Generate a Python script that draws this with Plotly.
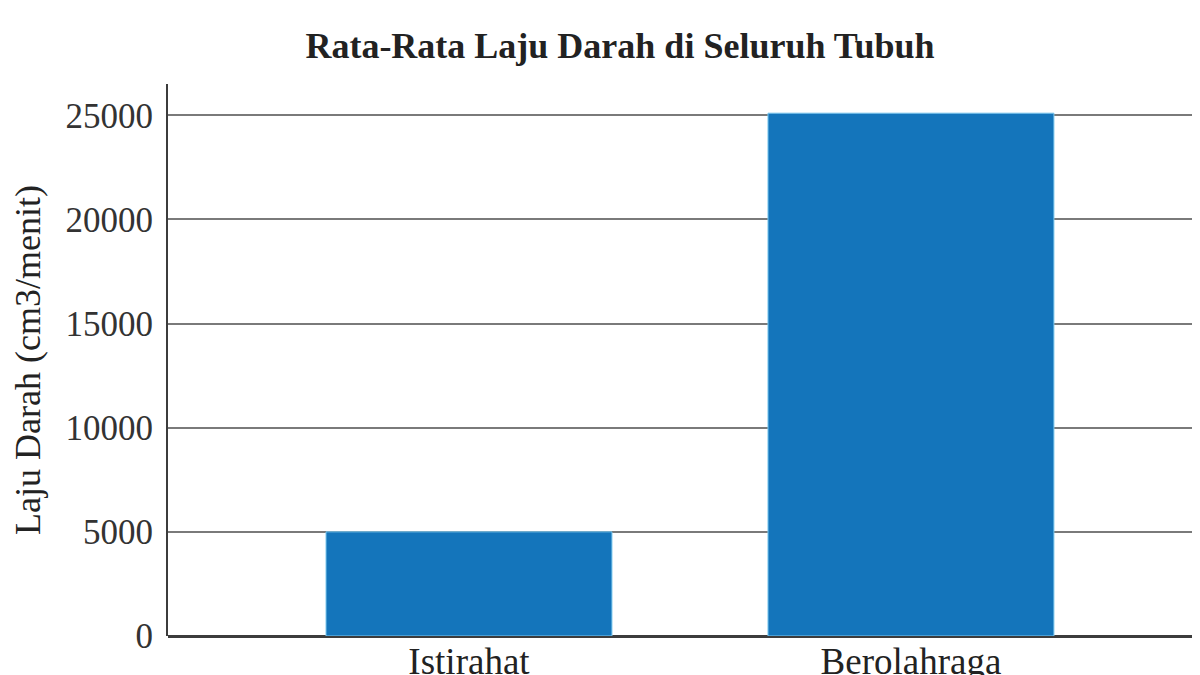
import plotly.graph_objects as go

# Data
categories = ["Istirahat", "Berolahraga"]
values = [5000, 25100]
y_ticks = [0, 5000, 10000, 15000, 20000, 25000]

BAR_COLOR = "#1475bb"
BAR_EDGE = "#7cc8ee"
GRID = "#7a7a7a"
AXIS = "#3c3c3c"
TEXT = "#222222"
SERIF = "Liberation Serif, Times New Roman, serif"

fig = go.Figure()
fig.add_trace(go.Bar(
    x=categories, y=values,
    marker=dict(color=BAR_COLOR, line=dict(color=BAR_EDGE, width=1)),
    width=0.647,
    showlegend=False,
))

# page body adds 8px, so margins are shifted to line up with the reference
fig.update_layout(
    width=1200, height=675,
    paper_bgcolor="white", plot_bgcolor="white",
    margin=dict(l=160, r=8, t=76, b=47),
    title=dict(
        text="<b>Rata-Rata Laju Darah di Seluruh Tubuh</b>",
        x=0.51, xanchor="center", y=0.945, yanchor="middle",
        font=dict(family=SERIF, size=36, color=TEXT),
    ),
    font=dict(family=SERIF, color=TEXT),
)

fig.update_xaxes(
    type="category", range=[-0.681, 1.654],
    showgrid=False, showline=False, zeroline=False,
    ticks="", automargin=False,
    tickfont=dict(family=SERIF, size=37, color=TEXT),
)
fig.update_yaxes(
    range=[0, 26500], tickvals=y_ticks, tickformat="d",
    tickfont=dict(family=SERIF, size=35, color="#333333"),
    showgrid=True, gridcolor=GRID, gridwidth=2,
    zeroline=True, zerolinecolor=AXIS, zerolinewidth=3,
    showline=True, linecolor=AXIS, linewidth=2,
    ticks="", ticklabelstandoff=6, automargin=False,
    title=dict(text="Laju Darah (cm3/menit)", standoff=14,
               font=dict(family=SERIF, size=36, color=TEXT)),
)

fig.write_html("out.html")
